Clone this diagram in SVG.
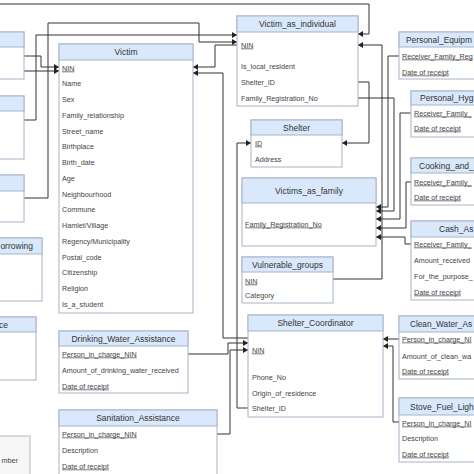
<svg xmlns="http://www.w3.org/2000/svg" width="474" height="474" viewBox="0 0 474 474">
<defs>
<marker id="arr" markerWidth="6" markerHeight="6" refX="5" refY="3" orient="auto" markerUnits="userSpaceOnUse">
<path d="M0,0 L5,3 L0,6 Z" fill="#222"/>
</marker>
<style>
.box{fill:#fff;stroke:#a8b4c6;stroke-width:1}
.hd{fill:#dae8fc;stroke:#a8b4c6;stroke-width:1}
.t{font-family:"Liberation Sans",Arial,sans-serif;font-size:8.5px;fill:#333}
.r{font-family:"Liberation Sans",Arial,sans-serif;font-size:7.2px;fill:#444}
.u{text-decoration:underline}
.c{fill:none;stroke:#333;stroke-width:1}
</style>
</defs>
<rect x="0" y="0" width="474" height="474" fill="#fff"/>

<g id="connectors">
<path class="c" d="M0,4 H369 V34 H358" marker-end="url(#arr)"/>
<path class="c" d="M24,198 H48 V23 H199 V42 H237" marker-end="url(#arr)"/>
<path class="c" d="M24,120 H36 V35 H237" marker-end="url(#arr)"/>
<path class="c" d="M24,56 H41 V67 H59" marker-end="url(#arr)"/>
<path class="c" d="M24,71 H59" marker-end="url(#arr)"/>
<path class="c" d="M237,45 H215 V67 H193" marker-end="url(#arr)"/>
<path class="c" d="M248,338 H223 V73 H193" marker-end="url(#arr)"/>
<path class="c" d="M358,82 H369 V143 H342" marker-end="url(#arr)"/>
<path class="c" d="M248,408 H237 V143 H251" marker-end="url(#arr)"/>
<path class="c" d="M333,279 H382 V45 H358" marker-end="url(#arr)"/>
<path class="c" d="M399,56 H388 V207 H376" marker-end="url(#arr)"/>
<path class="c" d="M358,98 H394 V211 H376" marker-end="url(#arr)"/>
<path class="c" d="M411,113 H400 V219 H376" marker-end="url(#arr)"/>
<path class="c" d="M411,182 H406 V228 H376" marker-end="url(#arr)"/>
<path class="c" d="M411,244 H405 V237 H376" marker-end="url(#arr)"/>
<path class="c" d="M399,339 H383" marker-end="url(#arr)"/>
<path class="c" d="M399,422 H393 V346 H383" marker-end="url(#arr)"/>
<path class="c" d="M188,354 H228 V343 H248" marker-end="url(#arr)"/>
<path class="c" d="M217,434 H230 V350 H248" marker-end="url(#arr)"/>
</g>

<g id="left-a">
<rect class="box" x="-10" y="32" width="34" height="47"/>
<rect class="hd" x="-10" y="32" width="34" height="15"/>
</g>
<g id="left-b">
<rect class="box" x="-10" y="96" width="34" height="63"/>
<rect class="hd" x="-10" y="96" width="34" height="15"/>
</g>
<g id="left-c">
<rect class="box" x="-10" y="175" width="34" height="47"/>
<rect class="hd" x="-10" y="175" width="34" height="16"/>
</g>
<g id="left-d">
<rect class="box" x="-10" y="238" width="52" height="63"/>
<rect class="hd" x="-10" y="238" width="52" height="16"/>
<text class="t" x="33" y="249" text-anchor="end">orrowing</text>
</g>
<g id="left-e">
<rect class="box" x="-10" y="317" width="46" height="63"/>
<rect class="hd" x="-10" y="317" width="46" height="15"/>
<text class="t" x="8" y="328" text-anchor="end">ce</text>
</g>
<g id="left-f">
<rect x="-10" y="436" width="40" height="50" fill="#f7f7f7" stroke="#b8b8b8"/>
<text class="r" x="18" y="463" text-anchor="end">mber</text>
</g>

<g id="victim">
<rect class="box" x="59" y="44" width="134" height="269"/>
<rect class="hd" x="59" y="44" width="134" height="16"/>
<text class="t" x="126" y="55" text-anchor="middle">Victim</text>
<text class="r u" x="62" y="70.5">NIN</text>
<text class="r" x="62" y="86.25">Name</text>
<text class="r" x="62" y="102">Sex</text>
<text class="r" x="62" y="117.75">Family_relationship</text>
<text class="r" x="62" y="133.5">Street_name</text>
<text class="r" x="62" y="149.25">Birthplace</text>
<text class="r" x="62" y="165">Birth_date</text>
<text class="r" x="62" y="180.75">Age</text>
<text class="r" x="62" y="196.5">Neighbourhood</text>
<text class="r" x="62" y="212.25">Commune</text>
<text class="r" x="62" y="228">Hamlet/Village</text>
<text class="r" x="62" y="243.75">Regency/Municipality</text>
<text class="r" x="62" y="259.5">Postal_code</text>
<text class="r" x="62" y="275.25">Citizenship</text>
<text class="r" x="62" y="291">Religion</text>
<text class="r" x="62" y="306.75">Is_a_student</text>
</g>

<g id="victim-as-individual">
<rect class="box" x="237" y="16" width="121" height="90"/>
<rect class="hd" x="237" y="16" width="121" height="16"/>
<text class="t" x="297.5" y="27" text-anchor="middle">Victim_as_individual</text>
<text class="r u" x="241" y="47.5">NIN</text>
<text class="r" x="241" y="68.5">Is_local_resident</text>
<text class="r" x="241" y="84.5">Shelter_ID</text>
<text class="r" x="241" y="100.5">Family_Registration_No</text>
</g>

<g id="shelter">
<rect class="box" x="251" y="120" width="91" height="47"/>
<rect class="hd" x="251" y="120" width="91" height="15"/>
<text class="t" x="296.5" y="130.5" text-anchor="middle">Shelter</text>
<text class="r u" x="255" y="145.5">ID</text>
<text class="r" x="255" y="161.5">Address</text>
</g>

<g id="victims-as-family">
<rect class="box" x="242" y="178" width="134" height="68"/>
<rect class="hd" x="242" y="178" width="134" height="25"/>
<text class="t" x="309" y="194" text-anchor="middle">Victims_as_family</text>
<text class="r u" x="245" y="226.5">Family_Registration_No</text>
</g>

<g id="vulnerable-groups">
<rect class="box" x="242" y="257" width="91" height="46"/>
<rect class="hd" x="242" y="257" width="91" height="15"/>
<text class="t" x="287.5" y="267.5" text-anchor="middle">Vulnerable_groups</text>
<text class="r u" x="245" y="283.5">NIN</text>
<text class="r" x="245" y="297.5">Category</text>
</g>

<g id="shelter-coordinator">
<rect class="box" x="248" y="315" width="135" height="102"/>
<rect class="hd" x="248" y="315" width="135" height="16"/>
<text class="t" x="315.5" y="326" text-anchor="middle">Shelter_Coordinator</text>
<text class="r u" x="252" y="352.5">NIN</text>
<text class="r" x="252" y="379.5">Phone_No</text>
<text class="r" x="252" y="395.5">Origin_of_residence</text>
<text class="r" x="252" y="410.5">Shelter_ID</text>
</g>

<g id="drinking-water-assistance">
<rect class="box" x="59" y="331" width="129" height="62"/>
<rect class="hd" x="59" y="331" width="129" height="15"/>
<text class="t" x="123.5" y="341.5" text-anchor="middle">Drinking_Water_Assistance</text>
<text class="r u" x="62" y="356.5">Person_in_charge_NIN</text>
<text class="r" x="62" y="372.5">Amount_of_drinking_water_received</text>
<text class="r u" x="62" y="388.5">Date of receipt</text>
</g>

<g id="sanitation-assistance">
<rect class="box" x="59" y="410" width="158" height="80"/>
<rect class="hd" x="59" y="410" width="158" height="16"/>
<text class="t" x="138" y="421" text-anchor="middle">Sanitation_Assistance</text>
<text class="r u" x="62" y="436.5">Person_in_charge_NIN</text>
<text class="r" x="62" y="452.5">Description</text>
<text class="r u" x="62" y="468.5">Date of receipt</text>
</g>

<g id="personal-equipment">
<rect class="box" x="399" y="32" width="100" height="47"/>
<rect class="hd" x="399" y="32" width="100" height="15"/>
<text class="t" x="406" y="42.5" textLength="66" lengthAdjust="spacingAndGlyphs">Personal_Equipm</text>
<text class="r u" x="402" y="58.5">Receiver_Family_Reg</text>
<text class="r u" x="402" y="74.5">Date of receipt</text>
</g>

<g id="personal-hygiene">
<rect class="box" x="411" y="91" width="80" height="46"/>
<rect class="hd" x="411" y="91" width="80" height="14"/>
<text class="t" x="420" y="101">Personal_Hyg</text>
<text class="r u" x="414" y="115.5">Receiver_Family_</text>
<text class="r u" x="414" y="130.5">Date of receipt</text>
</g>

<g id="cooking">
<rect class="box" x="411" y="158" width="80" height="47"/>
<rect class="hd" x="411" y="158" width="80" height="15"/>
<text class="t" x="419" y="168.5">Cooking_and_</text>
<text class="r u" x="414" y="184.5">Receiver_Family_</text>
<text class="r u" x="414" y="199.5">Date of receipt</text>
</g>

<g id="cash">
<rect class="box" x="411" y="221" width="80" height="79"/>
<rect class="hd" x="411" y="221" width="80" height="16"/>
<text class="t" x="439" y="232">Cash_As</text>
<text class="r u" x="414" y="246.5">Receiver_Family_</text>
<text class="r" x="414" y="262.5">Amount_received</text>
<text class="r" x="414" y="278.5">For_the_purpose_</text>
<text class="r u" x="414" y="294.5">Date of receipt</text>
</g>

<g id="clean-water">
<rect class="box" x="399" y="316" width="100" height="63"/>
<rect class="hd" x="399" y="316" width="100" height="16"/>
<text class="t" x="410" y="327" textLength="62" lengthAdjust="spacingAndGlyphs">Clean_Water_As</text>
<text class="r u" x="402" y="341.5">Person_in_charge_NI</text>
<text class="r" x="402" y="358.5">Amount_of_clean_wa</text>
<text class="r u" x="402" y="373.5">Date of receipt</text>
</g>

<g id="stove-fuel">
<rect class="box" x="399" y="398" width="100" height="64"/>
<rect class="hd" x="399" y="398" width="100" height="17"/>
<text class="t" x="410" y="409.5">Stove_Fuel_Ligh</text>
<text class="r u" x="402" y="425.5">Person_in_charge_NI</text>
<text class="r" x="402" y="440.5">Description</text>
<text class="r u" x="402" y="456.5">Date of receipt</text>
</g>
</svg>
